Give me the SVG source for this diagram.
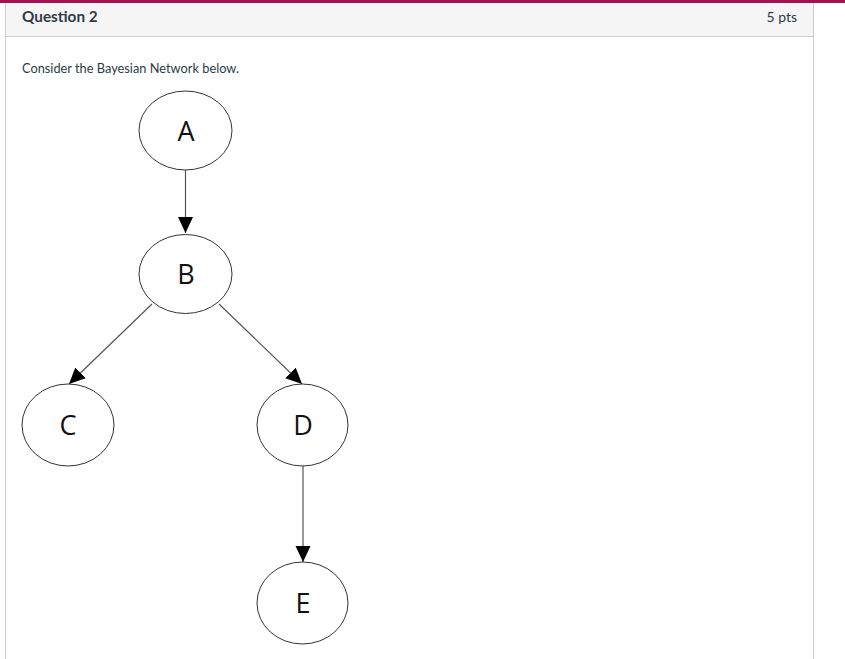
<svg xmlns="http://www.w3.org/2000/svg" width="845" height="659" viewBox="0 0 845 659">
<style>
.hdr{font-family:Lato,"Liberation Sans",sans-serif;fill:#2d3b45;font-size:14px}
.title{font-size:15.3px;font-weight:bold}
.body{font-family:Lato,"Liberation Sans",sans-serif;fill:#2d3b45;font-size:12.8px}
.node ellipse{fill:#fff;stroke:#333;stroke-width:1}
.node text{font-family:"Open Sans","Liberation Sans",sans-serif;font-size:27px;fill:#111;text-anchor:middle}
.edge{stroke:#555;stroke-width:1.2;fill:none;marker-end:url(#arr)}
</style>
<defs>
<marker id="arr" viewBox="0 0 16 16" refX="16" refY="8" markerWidth="16" markerHeight="16" markerUnits="userSpaceOnUse" orient="auto">
<path d="M0,0.5 L16,8 L0,15.5 Z" fill="#000"/>
</marker>
</defs>
<rect x="0" y="0" width="845" height="659" fill="#fff"/>
<rect x="5" y="3" width="809" height="33" fill="#f5f5f5"/>
<rect x="0" y="0" width="845" height="3" fill="#a3134f"/>
<line x1="5" y1="36.5" x2="814" y2="36.5" stroke="#c7cdd1"/>
<line x1="5.5" y1="3" x2="5.5" y2="659" stroke="#c7cdd1"/>
<line x1="813.5" y1="3" x2="813.5" y2="659" stroke="#c7cdd1"/>
<text class="hdr title" x="22" y="22">Question 2</text>
<text class="hdr" x="797" y="22" text-anchor="end">5 pts</text>
<text class="body" x="22" y="73">Consider the Bayesian Network below.</text>
<g id="edges">
<line class="edge" x1="185.5" y1="170" x2="185.5" y2="233"/>
<line class="edge" x1="152" y1="304" x2="69" y2="384"/>
<line class="edge" x1="219" y1="304" x2="302" y2="384"/>
<line class="edge" x1="303" y1="466" x2="303" y2="562"/>
</g>
<g id="node-A" class="node"><ellipse cx="185.5" cy="130.5" rx="46.5" ry="39.5"/><text x="186" y="141">A</text></g>
<g id="node-B" class="node"><ellipse cx="185.5" cy="274" rx="46.5" ry="39.5"/><text x="186" y="284">B</text></g>
<g id="node-C" class="node"><ellipse cx="68" cy="425" rx="46" ry="41"/><text x="68" y="435">C</text></g>
<g id="node-D" class="node"><ellipse cx="302.5" cy="425" rx="45.5" ry="41"/><text x="303" y="435">D</text></g>
<g id="node-E" class="node"><ellipse cx="302.5" cy="603" rx="45.5" ry="41"/><text x="303" y="613">E</text></g>
</svg>
